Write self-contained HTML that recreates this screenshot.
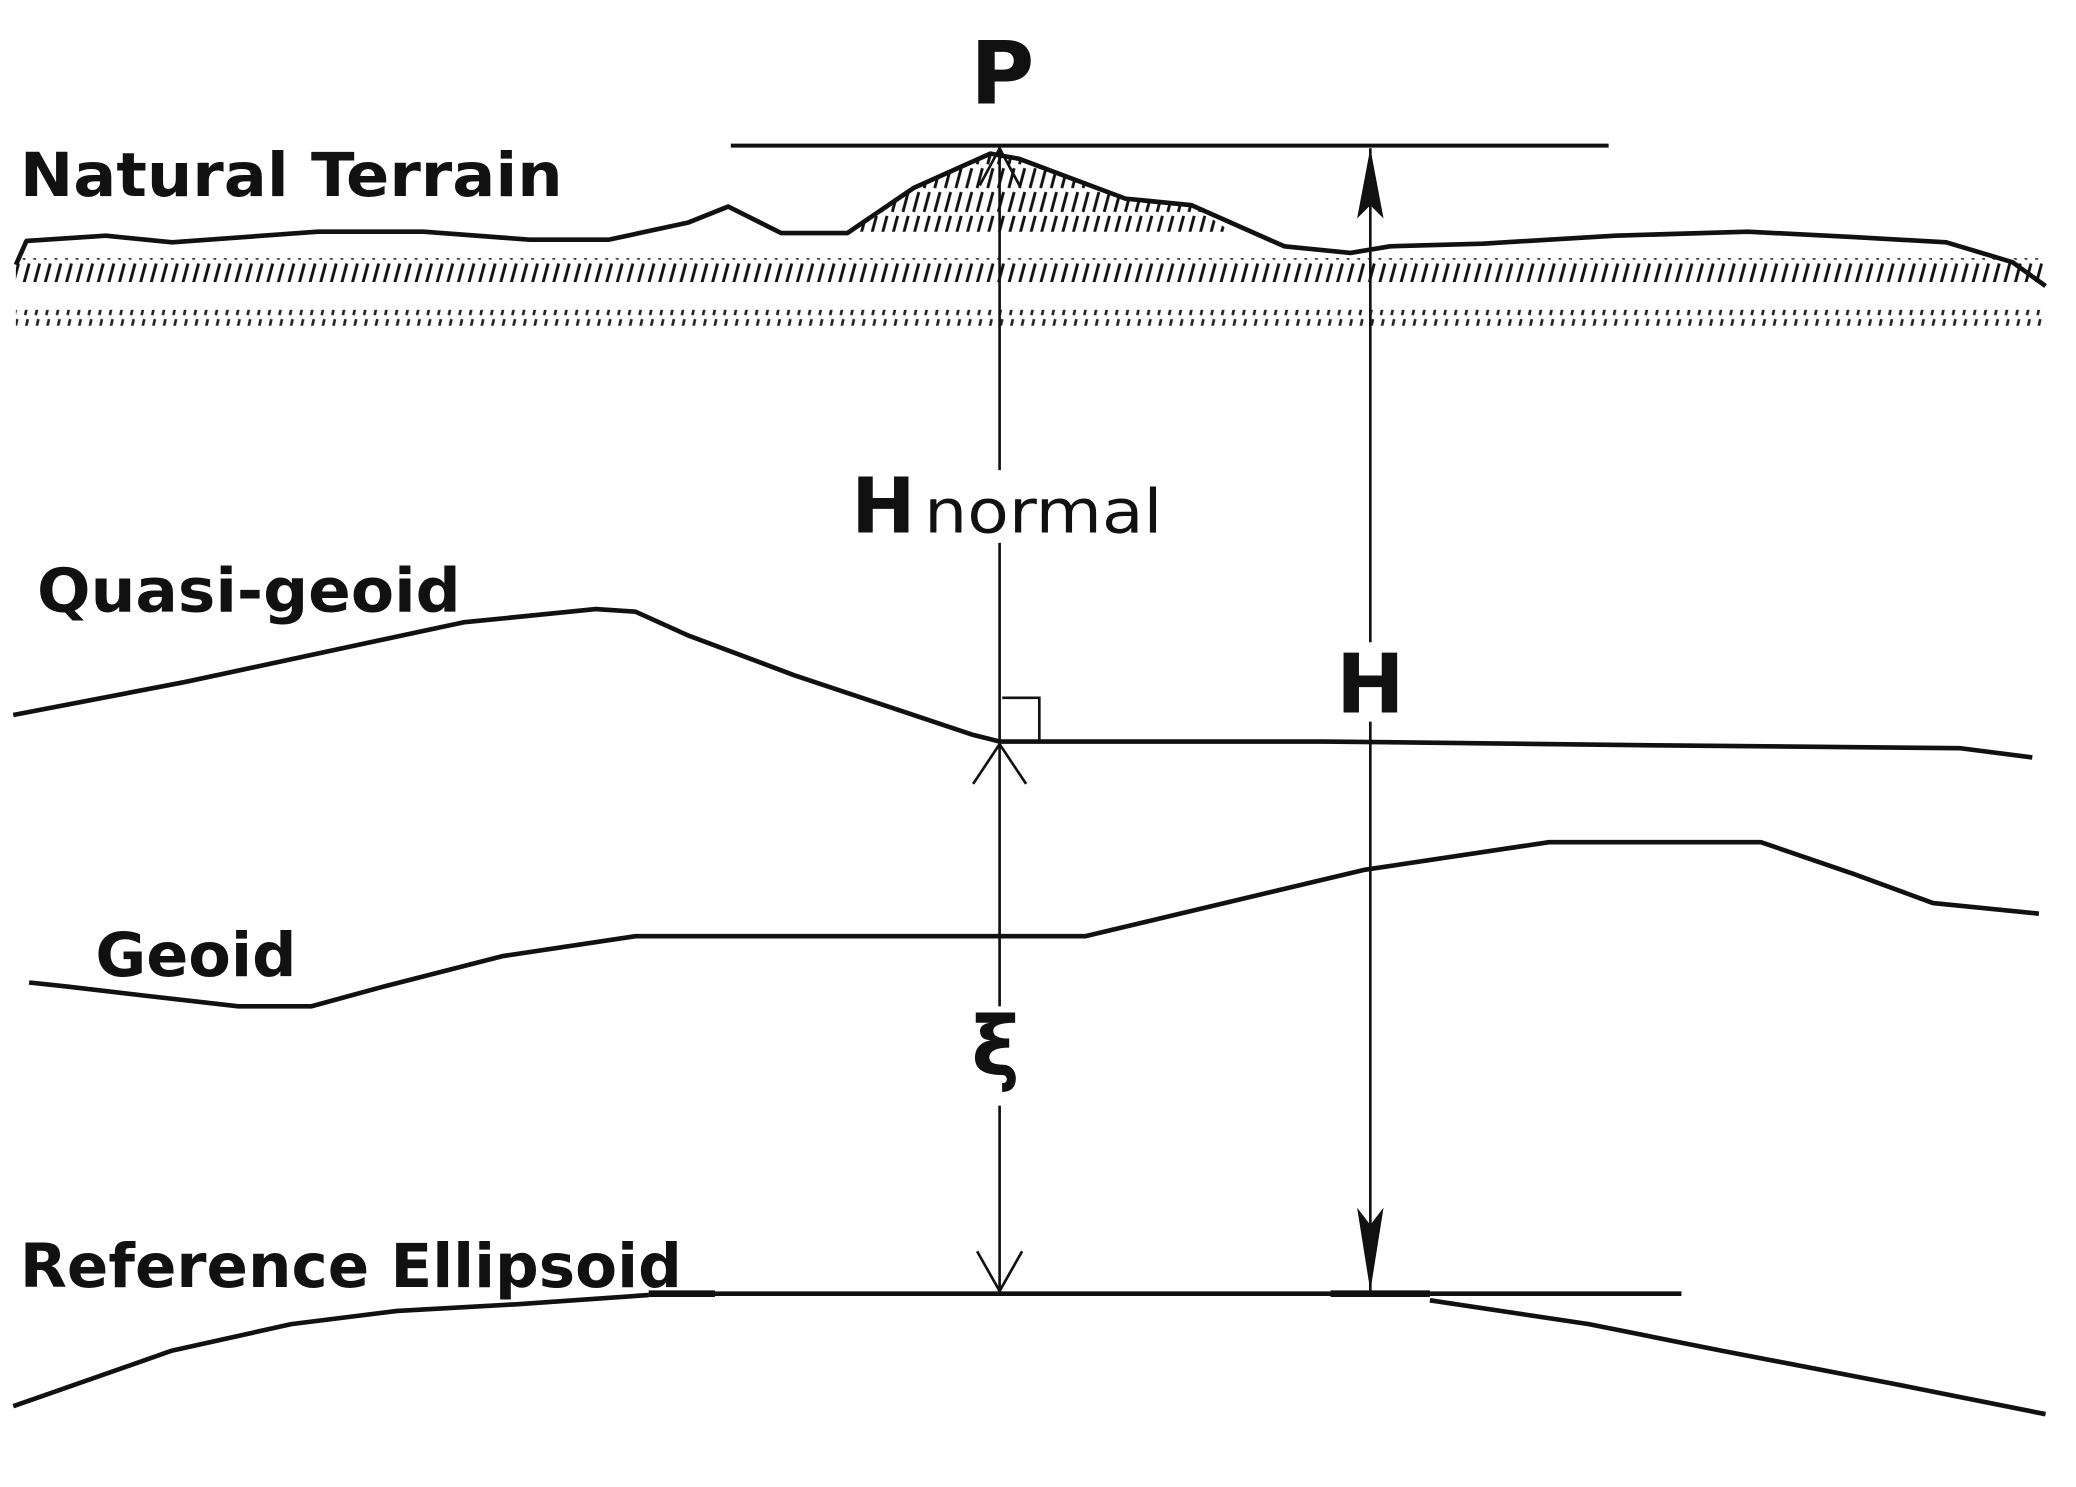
<!DOCTYPE html>
<html><head><meta charset="utf-8"><style>
html,body{margin:0;padding:0;background:#fff;}
svg{display:block;}
text{font-family:"DejaVu Sans","Liberation Sans",sans-serif;font-weight:bold;fill:#111;}
</style></head><body>
<svg width="2076" height="1487" viewBox="0 0 1568 1123" preserveAspectRatio="none" xmlns="http://www.w3.org/2000/svg">
<defs>
<pattern id="hatch" width="8" height="18" patternUnits="userSpaceOnUse">
<line x1="6" y1="1" x2="2" y2="16" stroke="#111" stroke-width="2.2"/>
</pattern>
<pattern id="dots" width="8" height="12" patternUnits="userSpaceOnUse">
<line x1="5" y1="1" x2="3" y2="10" stroke="#222" stroke-width="2"/>
</pattern>
</defs>
<rect width="1568" height="1123" fill="#fff"/>
<rect x="12" y="195" width="1533" height="18" fill="url(#hatch)"/>
<rect x="12" y="234" width="1533" height="12" fill="url(#dots)"/>
<polygon points="640,175 690,142 748,116 770,120 850,150 900,155 930,175" fill="url(#hatch)"/>
<g fill="none" stroke="#111" stroke-width="3.5" stroke-linejoin="round">
<polyline points="12,200 20,182 80,178 130,183 240,175 320,175 400,181 460,181 520,168 550,156 590,176 640,176 690,142 748,116 770,120 850,150 900,155 970,186 1020,191 1050,186 1120,184 1220,178 1320,175 1400,179 1470,183 1520,198 1545,216"/>
<line x1="552" y1="110" x2="1215" y2="110" stroke-width="3"/>
<polyline points="10,540 140,515 350,470 450,460 480,462 520,480 600,510 735,555 755,560 1000,560 1260,563 1480,565 1535,572"/>
<polyline points="22,742 50,745 110,752 180,760 235,760 290,745 380,722 480,707 820,707 1030,657 1170,636 1330,636 1400,660 1460,682 1540,690"/>
<line x1="490" y1="977" x2="1270" y2="977"/>
<polyline points="10,1062 130,1020 220,1000 300,990 390,985 490,978"/>
<polyline points="1080,982 1200,1000 1300,1020 1430,1045 1545,1068"/>
</g>
<line x1="490" y1="977" x2="540" y2="977" stroke="#111" stroke-width="5"/>
<line x1="1005" y1="977" x2="1080" y2="977" stroke="#111" stroke-width="5"/>
<g stroke="#111" stroke-width="2" fill="none">
<line x1="755" y1="112" x2="755" y2="355"/>
<line x1="755" y1="410" x2="755" y2="560"/>
<line x1="755" y1="560" x2="755" y2="760"/>
<line x1="755" y1="835" x2="755" y2="975"/>
<line x1="1035" y1="112" x2="1035" y2="485"/>
<line x1="1035" y1="545" x2="1035" y2="975"/>
<polyline points="757,527 785,527 785,560"/>
<polyline points="740,140 755,112 770,140"/>
<polyline points="735,592 755,562 775,592"/>
<polyline points="738,945 755,975 772,945"/>
</g>
<polygon points="1035,112 1025,165 1035,155 1045,165" fill="#111"/>
<polygon points="1035,975 1025,912 1035,925 1045,912" fill="#111"/>
<text x="757" y="78" font-size="66" text-anchor="middle">P</text>
<text x="15" y="148" font-size="46" textLength="410" lengthAdjust="spacingAndGlyphs">Natural Terrain</text>
<text x="28" y="462" font-size="46" textLength="320" lengthAdjust="spacingAndGlyphs">Quasi-geoid</text>
<text x="72" y="737" font-size="46" textLength="152" lengthAdjust="spacingAndGlyphs">Geoid</text>
<text x="15" y="972" font-size="46" textLength="500" lengthAdjust="spacingAndGlyphs">Reference Ellipsoid</text>
<text x="643" y="402" font-size="58">H</text>
<text x="698" y="402" font-size="46" style="font-weight:normal" textLength="180" lengthAdjust="spacingAndGlyphs">normal</text>
<text x="752" y="812" font-size="62" text-anchor="middle">ξ</text>
<text x="1035" y="538" font-size="62" text-anchor="middle">H</text>
</svg>
</body></html>
